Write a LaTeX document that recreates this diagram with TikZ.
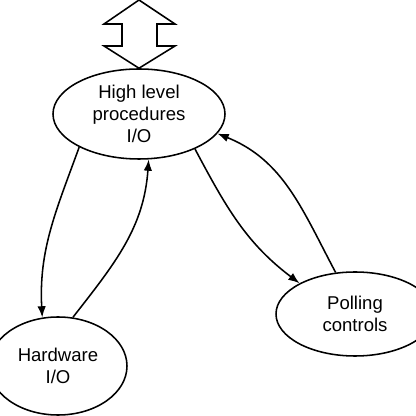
\documentclass[tikz,border=0pt]{standalone}
\usepackage{fontspec}
\setmainfont{Liberation Sans}
\usetikzlibrary{shapes.geometric,arrows.meta}

\begin{document}
\begin{tikzpicture}[line width=1.1pt, enode/.style={draw,ellipse,inner sep=0pt,align=center,font=\fontsize{13.2}{15.6}\selectfont}, arr/.style={-{Latex[length=8pt,width=6pt]}}]
    \useasboundingbox (0,0) rectangle (10.4,10.4);
    \node[enode, minimum width=4.3cm, minimum height=2.25cm] (hlp) at (3.475,7.55) {High level\\procedures\\I/O};
    \node[enode, minimum width=3.45cm, minimum height=2.45cm] (hw) at (1.45,1.25) {Hardware\\I/O};
    \node[enode, minimum width=3.95cm, minimum height=2.1cm] (poll) at (8.875,2.55) {Polling\\controls};

    \draw (3.475,10.4) -- (4.375,9.8) -- (3.925,9.8) -- (3.925,9.25) -- (4.375,9.25) -- (hlp.north)
       -- (2.6,9.25) -- (3.05,9.25) -- (3.05,9.8) -- (2.6,9.8) -- cycle;

    \draw[arr] (hlp.209) to[out=250,in=93] (hw.108) ;
    \draw[arr] (hw.73) to[out=52,in=266] (hlp.282) ;
    \draw[arr] (hlp.328) to[out=298,in=143] (poll.151) ;
    \draw[arr] (poll.115) to[out=118,in=338] (hlp.346) ;
\end{tikzpicture}
\end{document}
